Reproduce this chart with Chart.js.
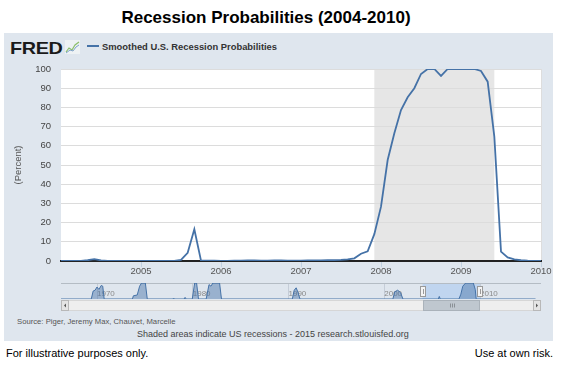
<!DOCTYPE html>
<html>
<head>
<meta charset="utf-8">
<script src="https://cdn.jsdelivr.net/npm/chart.js@4.4.0/dist/chart.umd.min.js"></script>
<style>
  body { margin: 0; width: 561px; height: 368px; background: #fff; position: relative; overflow: hidden;
         font-family: "Liberation Sans", Arial, sans-serif; }
  .abs { position: absolute; white-space: nowrap; }
  #title { left: 0; width: 532px; top: 9px; text-align: center; font-size: 17px; line-height: 17px; font-weight: bold; color: #000; }
  #panel { left: 4px; top: 33px; width: 549px; height: 308px; background: #dfe6ee; }
  #fred { left: 10px; top: 40px; font-size: 16.5px; line-height: 16.5px; font-weight: bold; color: #1a1a1a;
          transform: scaleX(1.2); transform-origin: left top; letter-spacing: -0.3px; }
  #icon { left: 65px; top: 40px; }
  #legendLine { left: 87px; top: 45px; width: 12px; height: 2px; background: #4572a7; }
  #legendText { left: 102px; top: 42px; font-size: 9.4px; line-height: 9.4px; font-weight: bold; color: #333; }
  #source { left: 17px; top: 318px; font-size: 7.7px; line-height: 7.7px; color: #555; }
  #shaded { left: 137px; top: 330px; font-size: 9px; line-height: 9px; color: #444; }
  #footL { left: 6px; top: 348px; font-size: 11px; line-height: 11px; color: #000; }
  #footR { right: 8px; top: 348px; font-size: 11px; line-height: 11px; color: #000; }
  #main { left: 4px; top: 33px; }
  #nav { left: 4px; top: 279px; }
</style>
</head>
<body>
<div class="abs" id="title">Recession Probabilities (2004-2010)</div>
<div class="abs" id="panel"></div>
<div class="abs" id="fred">FRED</div>
<svg class="abs" id="icon" width="15" height="14" viewBox="0 0 15 14">
  <rect x="0" y="0" width="15" height="14" fill="#eef2f4"/>
  <polyline points="1,12 4,8 7,10 10,5 14,2" fill="none" stroke="#8cbf6a" stroke-width="1.2"/>
  <polyline points="1,13 5,10 8,11 11,7 14,5" fill="none" stroke="#7fa3c8" stroke-width="1"/>
</svg>
<div class="abs" id="legendLine"></div>
<div class="abs" id="legendText">Smoothed U.S. Recession Probabilities</div>
<canvas class="abs" id="main" width="549" height="245"></canvas>
<canvas class="abs" id="nav" width="549" height="33"></canvas>
<div class="abs" id="source">Source: Piger, Jeremy Max, Chauvet, Marcelle</div>
<div class="abs" id="shaded">Shaded areas indicate US recessions - 2015 research.stlouisfed.org</div>
<div class="abs" id="footL">For illustrative purposes only.</div>
<div class="abs" id="footR">Use at own risk.</div>

<script>
// monthly observations, Jan 2004 - Jan 2010
const months = [
  '2004-01','2004-02','2004-03','2004-04','2004-05','2004-06','2004-07','2004-08','2004-09','2004-10','2004-11','2004-12',
  '2005-01','2005-02','2005-03','2005-04','2005-05','2005-06','2005-07','2005-08','2005-09','2005-10','2005-11','2005-12',
  '2006-01','2006-02','2006-03','2006-04','2006-05','2006-06','2006-07','2006-08','2006-09','2006-10','2006-11','2006-12',
  '2007-01','2007-02','2007-03','2007-04','2007-05','2007-06','2007-07','2007-08','2007-09','2007-10','2007-11','2007-12',
  '2008-01','2008-02','2008-03','2008-04','2008-05','2008-06','2008-07','2008-08','2008-09','2008-10','2008-11','2008-12',
  '2009-01','2009-02','2009-03','2009-04','2009-05','2009-06','2009-07','2009-08','2009-09','2009-10','2009-11','2009-12',
  '2010-01'
];
const probValues = [
  0, 0.1, 0.1, 0.1, 0.4, 1.0, 0.3, 0.1, 0.1, 0.1, 0.1, 0.1,
  0.1, 0.1, 0.1, 0.1, 0.1, 0.1, 0.6, 4.3, 16.5, 0.2, 0.2, 0.2,
  0.1, 0.1, 0.2, 0.2, 0.3, 0.3, 0.2, 0.2, 0.3, 0.3, 0.2, 0.2,
  0.2, 0.3, 0.3, 0.3, 0.4, 0.5, 0.6, 0.9, 1.4, 3.8, 5.0, 14.0,
  28.3, 52.6, 66.5, 78.6, 85.3, 90.0, 97.4, 100, 100, 96.4, 100, 100,
  100, 100, 100, 99.0, 93.4, 64.8, 4.9, 1.9, 0.8, 0.4, 0.2, 0.1,
  0.1
];
const yearTicks = ['2005', '2006', '2007', '2008', '2009', '2010'];
const recessionStart = '2007-12';
const recessionEnd = '2009-06';

// navigator overview (whole history, rough shape)
const navYears = [1966.2, 1969.4, 1969.6, 1969.8, 1970.0, 1970.2, 1970.45, 1970.6, 1970.75,
  1973.7, 1973.8, 1974.2, 1974.45, 1974.65, 1975.05, 1975.25, 1977.9, 1978.0, 1978.1,
  1979.1, 1979.2, 1979.3, 1979.95, 1980.2, 1980.4, 1980.6, 1981.4, 1981.7, 1981.9, 1982.1, 1982.8, 1983.0,
  1990.4, 1990.6, 1990.8, 1991.0, 1991.2, 2000.9, 2001.1, 2001.4, 2001.7, 2001.95,
  2005.65, 2005.75, 2005.85, 2007.8, 2008.0, 2008.2, 2008.5, 2009.3, 2009.5, 2009.6, 2015.8];
const navValues = [0, 0, 50, 55, 75, 60, 85, 80, 0,
  0, 20, 25, 80, 100, 100, 0, 0, 6, 0,
  0, 10, 0, 0, 100, 100, 0, 0, 90, 80, 100, 100, 0,
  0, 55, 70, 40, 0, 0, 45, 55, 40, 0,
  0, 16, 0, 0, 30, 80, 100, 100, 60, 0, 0];
const navTicks = [1970, 1980, 1990, 2000, 2010];
const selectedRange = [2004, 2010];

Chart.defaults.font.family = '"Liberation Sans", Arial, sans-serif';

// white plot area and recession band, drawn under the grid
const backdrop = {
  id: 'backdrop',
  beforeDraw(chart) {
    const { ctx, chartArea: a, scales: { x } } = chart;
    ctx.save();
    ctx.fillStyle = '#fff';
    ctx.fillRect(a.left, a.top, a.width, a.height);
    const x1 = x.getPixelForValue(months.indexOf(recessionStart));
    const x2 = x.getPixelForValue(months.indexOf(recessionEnd));
    ctx.fillStyle = '#e6e6e6';
    ctx.fillRect(x1, a.top, x2 - x1, a.height);
    ctx.restore();
  }
};

new Chart(document.getElementById('main'), {
  type: 'line',
  data: {
    labels: months,
    datasets: [{
      label: 'Smoothed U.S. Recession Probabilities',
      data: probValues,
      borderColor: '#4572a7',
      borderWidth: 1.8,
      pointRadius: 0,
      tension: 0
    }]
  },
  options: {
    responsive: false,
    animation: false,
    devicePixelRatio: 1,
    layout: { padding: { top: 36, left: 0, right: 12, bottom: 0 } },
    plugins: { legend: { display: false }, tooltip: { enabled: false } },
    scales: {
      x: {
        offset: false,
        afterFit: s => { s.height = 17; },
        border: { color: '#222', width: 2 },
        grid: {
          tickLength: 6,
          color: c => (c.index === months.length - 1 ? '#dddddd' : 'rgba(0,0,0,0)'),
          tickColor: c => {
            const m = months[c.index] || '';
            return m.endsWith('-01') && yearTicks.includes(m.slice(0, 4)) ? '#c0d0e0' : 'rgba(0,0,0,0)';
          }
        },
        ticks: {
          autoSkip: false,
          maxRotation: 0,
          padding: -1,
          color: '#555',
          font: { size: 9.5 },
          callback: function (v) {
            const m = this.getLabelForValue(v);
            return m.endsWith('-01') && yearTicks.includes(m.slice(0, 4)) ? m.slice(0, 4) : '';
          }
        }
      },
      y: {
        min: 0,
        max: 100,
        afterFit: s => { s.width = 57; },
        border: { display: false },
        grid: { color: '#dcdcdc', drawTicks: false },
        ticks: { stepSize: 10, padding: 10, color: '#444', font: { size: 9.5 } },
        title: {
          display: true,
          text: '(Percent)',
          color: '#555',
          font: { size: 9.5 },
          padding: { top: 8.5, bottom: 0 }
        }
      }
    }
  },
  plugins: [backdrop]
});

// navigator selection, handles and scrollbar
const navChrome = {
  id: 'navChrome',
  beforeDatasetsDraw(chart) {
    const { ctx, chartArea: a, scales: { x } } = chart;
    const s = x.getPixelForValue(selectedRange[0]);
    const e = x.getPixelForValue(selectedRange[1]);
    ctx.save();
    ctx.fillStyle = 'rgba(175,205,240,0.65)';
    ctx.fillRect(s, a.top, e - s, a.height);
    ctx.strokeStyle = '#b4bcc4';
    ctx.lineWidth = 1;
    ctx.beginPath();
    ctx.moveTo(a.left, a.top + 0.5);
    ctx.lineTo(a.right, a.top + 0.5);
    ctx.stroke();
    ctx.restore();
  },
  afterDraw(chart) {
    const { ctx, chartArea: a, scales: { x } } = chart;
    const s = Math.round(x.getPixelForValue(selectedRange[0]));
    const e = Math.round(x.getPixelForValue(selectedRange[1]));
    const y0 = a.bottom + 1.5;
    ctx.save();
    ctx.lineWidth = 1;
    // track
    ctx.fillStyle = '#eeeeee';
    ctx.strokeStyle = '#d6d6d6';
    ctx.fillRect(a.left, y0, a.width, 10);
    ctx.strokeRect(a.left + 0.5, y0, a.width - 1, 10);
    // thumb
    ctx.fillStyle = '#bfc7cf';
    ctx.strokeStyle = '#aab2ba';
    ctx.fillRect(s, y0, e - s, 10);
    ctx.strokeRect(s + 0.5, y0, e - s - 1, 10);
    ctx.strokeStyle = '#8a9096';
    const mid = Math.round((s + e) / 2);
    [-2, 0, 2].forEach(d => {
      ctx.beginPath();
      ctx.moveTo(mid + d + 0.5, y0 + 3);
      ctx.lineTo(mid + d + 0.5, y0 + 7);
      ctx.stroke();
    });
    // buttons
    [a.left, a.right - 8].forEach((bx, i) => {
      ctx.fillStyle = '#e4e4e4';
      ctx.strokeStyle = '#b8b8b8';
      ctx.fillRect(bx, y0, 8, 10);
      ctx.strokeRect(bx + 0.5, y0, 7, 10);
      ctx.fillStyle = '#555';
      ctx.beginPath();
      if (i === 0) { ctx.moveTo(bx + 3, y0 + 5); ctx.lineTo(bx + 5, y0 + 3); ctx.lineTo(bx + 5, y0 + 7); }
      else { ctx.moveTo(bx + 5, y0 + 5); ctx.lineTo(bx + 3, y0 + 3); ctx.lineTo(bx + 3, y0 + 7); }
      ctx.fill();
    });
    // handles
    [s, e].forEach(hx => {
      ctx.fillStyle = '#f4f4f4';
      ctx.strokeStyle = '#9a9a9a';
      ctx.fillRect(hx - 3, a.top + 3, 6, 11);
      ctx.strokeRect(hx - 2.5, a.top + 3.5, 5, 10);
      ctx.beginPath();
      ctx.moveTo(hx + 0.5, a.top + 6);
      ctx.lineTo(hx + 0.5, a.top + 11);
      ctx.stroke();
    });
    ctx.restore();
  }
};

new Chart(document.getElementById('nav'), {
  type: 'line',
  data: {
    datasets: [{
      data: navYears.map((yr, i) => ({ x: yr, y: navValues[i] })),
      borderColor: '#4572a7',
      borderWidth: 1,
      backgroundColor: 'rgba(69,114,167,0.45)',
      fill: 'origin',
      pointRadius: 0,
      tension: 0
    }]
  },
  options: {
    responsive: false,
    animation: false,
    devicePixelRatio: 1,
    layout: { padding: { top: 4, left: 57, right: 12, bottom: 0 } },
    plugins: { legend: { display: false }, tooltip: { enabled: false } },
    scales: {
      x: {
        type: 'linear',
        min: 1966.24,
        max: 2016.37,
        z: 1,
        afterFit: s => { s.height = 13; },
        afterBuildTicks: s => { s.ticks = navTicks.map(v => ({ value: v })); },
        border: { display: false },
        grid: { color: 'rgba(140,150,165,0.3)', drawTicks: false },
        ticks: {
          mirror: true,
          align: 'start',
          padding: 0,
          color: '#8a8a8a',
          font: { size: 8 },
          callback: v => String(v)
        }
      },
      y: { display: false, min: 0, max: 100 }
    }
  },
  plugins: [navChrome]
});
</script>
</body>
</html>
